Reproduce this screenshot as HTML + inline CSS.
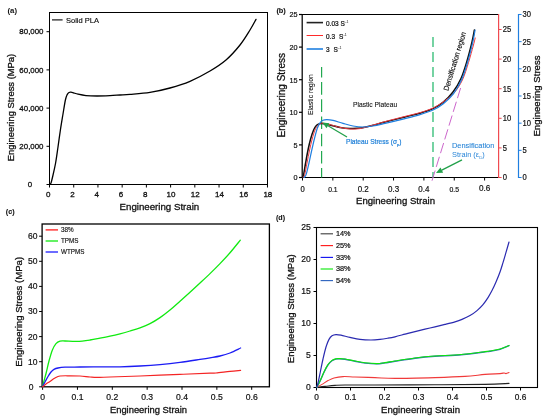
<!DOCTYPE html>
<html><head><meta charset="utf-8"><title>Figure</title>
<style>
html,body{margin:0;padding:0;background:#fff;}
body{width:550px;height:417px;overflow:hidden;}
svg{display:block;font-family:"Liberation Sans",sans-serif;}
</style></head><body>
<svg width="550" height="417" viewBox="0 0 550 417">
<rect x="0" y="0" width="550" height="417" fill="#fff"/>
<rect x="49.5" y="12.5" width="218.0" height="172.0" fill="none" stroke="#000" stroke-width="1"/>
<line x1="46.50" y1="184.50" x2="49.50" y2="184.50" stroke="#000" stroke-width="1.0" />
<text x="32.20" y="187.00" font-size="7.9" text-anchor="end" fill="#111" font-weight="normal"   stroke="#111" stroke-width="0.3">0</text>
<line x1="46.50" y1="146.30" x2="49.50" y2="146.30" stroke="#000" stroke-width="1.0" />
<text x="43.50" y="149.00" font-size="7.9" text-anchor="end" fill="#111" font-weight="normal"   stroke="#111" stroke-width="0.3">20,000</text>
<line x1="46.50" y1="108.10" x2="49.50" y2="108.10" stroke="#000" stroke-width="1.0" />
<text x="43.50" y="110.80" font-size="7.9" text-anchor="end" fill="#111" font-weight="normal"   stroke="#111" stroke-width="0.3">40,000</text>
<line x1="46.50" y1="69.90" x2="49.50" y2="69.90" stroke="#000" stroke-width="1.0" />
<text x="43.50" y="72.60" font-size="7.9" text-anchor="end" fill="#111" font-weight="normal"   stroke="#111" stroke-width="0.3">60,000</text>
<line x1="46.50" y1="31.70" x2="49.50" y2="31.70" stroke="#000" stroke-width="1.0" />
<text x="43.50" y="34.40" font-size="7.9" text-anchor="end" fill="#111" font-weight="normal"   stroke="#111" stroke-width="0.3">80,000</text>
<line x1="49.50" y1="184.50" x2="49.50" y2="187.50" stroke="#000" stroke-width="1.0" />
<text x="48.30" y="196.60" font-size="8" text-anchor="middle" fill="#111" font-weight="normal"   stroke="#111" stroke-width="0.3">0</text>
<line x1="73.72" y1="184.50" x2="73.72" y2="187.50" stroke="#000" stroke-width="1.0" />
<text x="72.52" y="196.60" font-size="8" text-anchor="middle" fill="#111" font-weight="normal"   stroke="#111" stroke-width="0.3">2</text>
<line x1="97.94" y1="184.50" x2="97.94" y2="187.50" stroke="#000" stroke-width="1.0" />
<text x="96.74" y="196.60" font-size="8" text-anchor="middle" fill="#111" font-weight="normal"   stroke="#111" stroke-width="0.3">4</text>
<line x1="122.16" y1="184.50" x2="122.16" y2="187.50" stroke="#000" stroke-width="1.0" />
<text x="120.96" y="196.60" font-size="8" text-anchor="middle" fill="#111" font-weight="normal"   stroke="#111" stroke-width="0.3">6</text>
<line x1="146.38" y1="184.50" x2="146.38" y2="187.50" stroke="#000" stroke-width="1.0" />
<text x="145.18" y="196.60" font-size="8" text-anchor="middle" fill="#111" font-weight="normal"   stroke="#111" stroke-width="0.3">8</text>
<line x1="170.60" y1="184.50" x2="170.60" y2="187.50" stroke="#000" stroke-width="1.0" />
<text x="171.00" y="196.60" font-size="8" text-anchor="middle" fill="#111" font-weight="normal"   stroke="#111" stroke-width="0.3">10</text>
<line x1="194.82" y1="184.50" x2="194.82" y2="187.50" stroke="#000" stroke-width="1.0" />
<text x="195.22" y="196.60" font-size="8" text-anchor="middle" fill="#111" font-weight="normal"   stroke="#111" stroke-width="0.3">12</text>
<line x1="219.04" y1="184.50" x2="219.04" y2="187.50" stroke="#000" stroke-width="1.0" />
<text x="219.44" y="196.60" font-size="8" text-anchor="middle" fill="#111" font-weight="normal"   stroke="#111" stroke-width="0.3">14</text>
<line x1="243.26" y1="184.50" x2="243.26" y2="187.50" stroke="#000" stroke-width="1.0" />
<text x="243.66" y="196.60" font-size="8" text-anchor="middle" fill="#111" font-weight="normal"   stroke="#111" stroke-width="0.3">16</text>
<line x1="267.48" y1="184.50" x2="267.48" y2="187.50" stroke="#000" stroke-width="1.0" />
<text x="267.88" y="196.60" font-size="8" text-anchor="middle" fill="#111" font-weight="normal"   stroke="#111" stroke-width="0.3">18</text>
<text x="159.40" y="209.50" font-size="9.7" text-anchor="middle" fill="#111" font-weight="normal"   stroke="#111" stroke-width="0.3">Engineering Strain</text>
<text x="0.00" y="0.00" font-size="9.4" text-anchor="middle" fill="#111" font-weight="normal" transform="translate(14.20 107.50) rotate(-90)"  stroke="#111" stroke-width="0.3">Engineering Stress (MPa)</text>
<line x1="52.00" y1="19.90" x2="62.60" y2="19.90" stroke="#000" stroke-width="1.1" />
<text x="66.00" y="22.60" font-size="7.5" text-anchor="start" fill="#111" font-weight="normal"   stroke="#111" stroke-width="0.15">Solid PLA</text>
<text x="7.50" y="13.20" font-size="7.8" text-anchor="start" fill="#111" font-weight="bold"   stroke="#111" stroke-width="0">(a)</text>
<path d="M50.00 184.00 C50.17 183.83 50.53 184.33 51.00 183.00 C51.47 181.67 52.03 179.33 52.80 176.00 C53.57 172.67 54.73 167.83 55.60 163.00 C56.47 158.17 57.20 152.50 58.00 147.00 C58.80 141.50 59.57 135.50 60.40 130.00 C61.23 124.50 62.17 119.00 63.00 114.00 C63.83 109.00 64.70 103.23 65.40 100.00 C66.10 96.77 66.60 95.85 67.20 94.60 C67.80 93.35 68.37 92.90 69.00 92.50 C69.63 92.10 70.25 92.15 71.00 92.20 C71.75 92.25 72.33 92.47 73.50 92.80 C74.67 93.13 75.92 93.73 78.00 94.20 C80.08 94.67 82.83 95.30 86.00 95.60 C89.17 95.90 93.00 96.00 97.00 96.00 C101.00 96.00 106.17 95.77 110.00 95.60 C113.83 95.43 116.67 95.20 120.00 95.00 C123.33 94.80 125.00 94.83 130.00 94.40 C135.00 93.97 143.33 93.47 150.00 92.40 C156.67 91.33 163.33 89.85 170.00 88.00 C176.67 86.15 183.33 84.13 190.00 81.30 C196.67 78.47 204.00 74.55 210.00 71.00 C216.00 67.45 221.00 64.33 226.00 60.00 C231.00 55.67 236.00 50.00 240.00 45.00 C244.00 40.00 247.33 34.27 250.00 30.00 C252.67 25.73 255.00 21.17 256.00 19.40" fill="none" stroke="#000" stroke-width="1.3" stroke-linecap="round" stroke-linejoin="round" />
<line x1="302.20" y1="14.00" x2="302.20" y2="178.00" stroke="#000" stroke-width="1.25" />
<line x1="301.50" y1="177.50" x2="498.60" y2="177.50" stroke="#000" stroke-width="1.1" />
<line x1="302.00" y1="14.50" x2="498.60" y2="14.50" stroke="#000" stroke-width="1.1" />
<line x1="498.60" y1="14.00" x2="498.60" y2="178.00" stroke="#f04a50" stroke-width="1.2" />
<line x1="518.50" y1="14.00" x2="518.50" y2="178.00" stroke="#1f7fe0" stroke-width="1.2" />
<line x1="299.00" y1="177.50" x2="302.00" y2="177.50" stroke="#000" stroke-width="1.2" />
<text x="0.00" y="0.00" font-size="8.1" text-anchor="end" fill="#111" font-weight="normal" transform="translate(297.50 180.40) scale(0.9 1)"  stroke="#111" stroke-width="0.2">0</text>
<line x1="299.00" y1="144.90" x2="302.00" y2="144.90" stroke="#000" stroke-width="1.2" />
<text x="0.00" y="0.00" font-size="8.1" text-anchor="end" fill="#111" font-weight="normal" transform="translate(297.50 147.80) scale(0.9 1)"  stroke="#111" stroke-width="0.2">5</text>
<line x1="299.00" y1="112.30" x2="302.00" y2="112.30" stroke="#000" stroke-width="1.2" />
<text x="0.00" y="0.00" font-size="8.1" text-anchor="end" fill="#111" font-weight="normal" transform="translate(297.50 115.20) scale(0.9 1)"  stroke="#111" stroke-width="0.2">10</text>
<line x1="299.00" y1="79.70" x2="302.00" y2="79.70" stroke="#000" stroke-width="1.2" />
<text x="0.00" y="0.00" font-size="8.1" text-anchor="end" fill="#111" font-weight="normal" transform="translate(297.50 82.60) scale(0.9 1)"  stroke="#111" stroke-width="0.2">15</text>
<line x1="299.00" y1="47.10" x2="302.00" y2="47.10" stroke="#000" stroke-width="1.2" />
<text x="0.00" y="0.00" font-size="8.1" text-anchor="end" fill="#111" font-weight="normal" transform="translate(297.50 50.00) scale(0.9 1)"  stroke="#111" stroke-width="0.2">20</text>
<line x1="299.00" y1="14.50" x2="302.00" y2="14.50" stroke="#000" stroke-width="1.2" />
<text x="0.00" y="0.00" font-size="8.1" text-anchor="end" fill="#111" font-weight="normal" transform="translate(297.50 17.40) scale(0.9 1)"  stroke="#111" stroke-width="0.2">25</text>
<line x1="498.60" y1="177.50" x2="501.60" y2="177.50" stroke="#f04a50" stroke-width="1.0" />
<text x="0.00" y="0.00" font-size="8.2" text-anchor="start" fill="#111" font-weight="normal" transform="translate(502.80 180.40) scale(0.93 1)"  stroke="#111" stroke-width="0.2">0</text>
<line x1="498.60" y1="147.90" x2="501.60" y2="147.90" stroke="#f04a50" stroke-width="1.0" />
<text x="0.00" y="0.00" font-size="8.2" text-anchor="start" fill="#111" font-weight="normal" transform="translate(502.80 150.80) scale(0.93 1)"  stroke="#111" stroke-width="0.2">5</text>
<line x1="498.60" y1="118.30" x2="501.60" y2="118.30" stroke="#f04a50" stroke-width="1.0" />
<text x="0.00" y="0.00" font-size="8.2" text-anchor="start" fill="#111" font-weight="normal" transform="translate(502.80 121.20) scale(0.93 1)"  stroke="#111" stroke-width="0.2">10</text>
<line x1="498.60" y1="88.70" x2="501.60" y2="88.70" stroke="#f04a50" stroke-width="1.0" />
<text x="0.00" y="0.00" font-size="8.2" text-anchor="start" fill="#111" font-weight="normal" transform="translate(502.80 91.60) scale(0.93 1)"  stroke="#111" stroke-width="0.2">15</text>
<line x1="498.60" y1="59.10" x2="501.60" y2="59.10" stroke="#f04a50" stroke-width="1.0" />
<text x="0.00" y="0.00" font-size="8.2" text-anchor="start" fill="#111" font-weight="normal" transform="translate(502.80 62.00) scale(0.93 1)"  stroke="#111" stroke-width="0.2">20</text>
<line x1="498.60" y1="29.50" x2="501.60" y2="29.50" stroke="#f04a50" stroke-width="1.0" />
<text x="0.00" y="0.00" font-size="8.2" text-anchor="start" fill="#111" font-weight="normal" transform="translate(502.80 32.40) scale(0.93 1)"  stroke="#111" stroke-width="0.2">25</text>
<line x1="518.50" y1="177.50" x2="521.60" y2="177.50" stroke="#1f7fe0" stroke-width="1.0" />
<text x="0.00" y="0.00" font-size="8.2" text-anchor="start" fill="#111" font-weight="normal" transform="translate(522.60 180.40) scale(0.93 1)"  stroke="#111" stroke-width="0.2">0</text>
<line x1="518.50" y1="150.33" x2="521.60" y2="150.33" stroke="#1f7fe0" stroke-width="1.0" />
<text x="0.00" y="0.00" font-size="8.2" text-anchor="start" fill="#111" font-weight="normal" transform="translate(522.60 153.23) scale(0.93 1)"  stroke="#111" stroke-width="0.2">5</text>
<line x1="518.50" y1="123.16" x2="521.60" y2="123.16" stroke="#1f7fe0" stroke-width="1.0" />
<text x="0.00" y="0.00" font-size="8.2" text-anchor="start" fill="#111" font-weight="normal" transform="translate(522.60 126.06) scale(0.93 1)"  stroke="#111" stroke-width="0.2">10</text>
<line x1="518.50" y1="95.99" x2="521.60" y2="95.99" stroke="#1f7fe0" stroke-width="1.0" />
<text x="0.00" y="0.00" font-size="8.2" text-anchor="start" fill="#111" font-weight="normal" transform="translate(522.60 98.89) scale(0.93 1)"  stroke="#111" stroke-width="0.2">15</text>
<line x1="518.50" y1="68.82" x2="521.60" y2="68.82" stroke="#1f7fe0" stroke-width="1.0" />
<text x="0.00" y="0.00" font-size="8.2" text-anchor="start" fill="#111" font-weight="normal" transform="translate(522.60 71.72) scale(0.93 1)"  stroke="#111" stroke-width="0.2">20</text>
<line x1="518.50" y1="41.65" x2="521.60" y2="41.65" stroke="#1f7fe0" stroke-width="1.0" />
<text x="0.00" y="0.00" font-size="8.2" text-anchor="start" fill="#111" font-weight="normal" transform="translate(522.60 44.55) scale(0.93 1)"  stroke="#111" stroke-width="0.2">25</text>
<line x1="518.50" y1="14.48" x2="521.60" y2="14.48" stroke="#1f7fe0" stroke-width="1.0" />
<text x="0.00" y="0.00" font-size="8.2" text-anchor="start" fill="#111" font-weight="normal" transform="translate(522.60 17.38) scale(0.93 1)"  stroke="#111" stroke-width="0.2">30</text>
<line x1="302.50" y1="177.50" x2="302.50" y2="180.50" stroke="#000" stroke-width="1.0" />
<text x="0.00" y="0.00" font-size="8.2" text-anchor="middle" fill="#111" font-weight="normal" transform="translate(302.50 191.60) scale(0.93 1)"  stroke="#111" stroke-width="0.2">0</text>
<line x1="332.85" y1="177.50" x2="332.85" y2="180.50" stroke="#000" stroke-width="1.0" />
<text x="0.00" y="0.00" font-size="7.3" text-anchor="middle" fill="#111" font-weight="normal" transform="translate(332.85 191.80) scale(0.93 1)"  stroke="#111" stroke-width="0.2">0.1</text>
<line x1="363.20" y1="177.50" x2="363.20" y2="180.50" stroke="#000" stroke-width="1.0" />
<text x="0.00" y="0.00" font-size="8.6" text-anchor="middle" fill="#111" font-weight="normal" transform="translate(363.20 191.80) scale(0.93 1)"  stroke="#111" stroke-width="0.2">0.2</text>
<line x1="393.55" y1="177.50" x2="393.55" y2="180.50" stroke="#000" stroke-width="1.0" />
<text x="0.00" y="0.00" font-size="8.6" text-anchor="middle" fill="#111" font-weight="normal" transform="translate(393.55 191.80) scale(0.93 1)"  stroke="#111" stroke-width="0.2">0.3</text>
<line x1="423.90" y1="177.50" x2="423.90" y2="180.50" stroke="#000" stroke-width="1.0" />
<text x="0.00" y="0.00" font-size="8.6" text-anchor="middle" fill="#111" font-weight="normal" transform="translate(423.90 191.80) scale(0.93 1)"  stroke="#111" stroke-width="0.2">0.4</text>
<line x1="454.25" y1="177.50" x2="454.25" y2="180.50" stroke="#000" stroke-width="1.0" />
<text x="0.00" y="0.00" font-size="7.4" text-anchor="middle" fill="#111" font-weight="normal" transform="translate(454.25 191.90) scale(0.93 1)"  stroke="#111" stroke-width="0.2">0.5</text>
<line x1="484.60" y1="177.50" x2="484.60" y2="180.50" stroke="#000" stroke-width="1.0" />
<text x="0.00" y="0.00" font-size="8.8" text-anchor="middle" fill="#111" font-weight="normal" transform="translate(484.60 191.30) scale(0.93 1)"  stroke="#111" stroke-width="0.2">0.6</text>
<text x="395.50" y="203.80" font-size="9.6" text-anchor="middle" fill="#111" font-weight="normal"   stroke="#111" stroke-width="0.3">Engineering Strain</text>
<text x="0.00" y="0.00" font-size="10" text-anchor="middle" fill="#111" font-weight="normal" transform="translate(285.00 95.20) rotate(-90)"  stroke="#111" stroke-width="0.3">Engineering Stress</text>
<text x="0.00" y="0.00" font-size="9.6" text-anchor="middle" fill="#111" font-weight="normal" transform="translate(540.20 96.00) rotate(-90)"  stroke="#111" stroke-width="0.3">Engineering Stress</text>
<text x="276.40" y="13.40" font-size="7.4" text-anchor="start" fill="#111" font-weight="bold"   stroke="#111" stroke-width="0.1">(b)</text>
<line x1="306.60" y1="22.60" x2="323.00" y2="22.60" stroke="#222" stroke-width="1.6" />
<text font-size="7.2" fill="#111" stroke="#111" stroke-width="0.25" transform="translate(326 25.50) scale(0.9 1)">0.03<tspan dx="2.2">S</tspan><tspan font-size="4" dy="-2.8" dx="0.4" stroke-width="0">-1</tspan></text>
<line x1="306.60" y1="35.50" x2="323.00" y2="35.50" stroke="#ff2a2a" stroke-width="1.0" />
<text font-size="7.2" fill="#111" stroke="#111" stroke-width="0.25" transform="translate(326 38.80) scale(0.9 1)">0.3<tspan dx="4.4">S</tspan><tspan font-size="4" dy="-2.8" dx="0.4" stroke-width="0">-1</tspan></text>
<line x1="306.60" y1="49.00" x2="323.00" y2="49.00" stroke="#1f7fe0" stroke-width="1.6" />
<text font-size="7.2" fill="#111" stroke="#111" stroke-width="0.25" transform="translate(326 51.80) scale(0.9 1)">3<tspan dx="4.4">S</tspan><tspan font-size="4" dy="-2.8" dx="0.4" stroke-width="0">-1</tspan></text>
<line x1="321.60" y1="177.50" x2="321.60" y2="66.90" stroke="#22a850" stroke-width="1.2" stroke-dasharray="12.6 4.6" stroke-dashoffset="3.2"/>
<line x1="433.00" y1="37.00" x2="433.00" y2="177.50" stroke="#3cc07c" stroke-width="1.4" stroke-dasharray="10 5"/>
<line x1="460.60" y1="88.00" x2="431.80" y2="181.40" stroke="#cc66cc" stroke-width="1.0" stroke-dasharray="10.6 3.8"/>
<path d="M302.60 177.40 C302.77 176.93 303.10 177.00 303.60 174.60 C304.10 172.20 304.87 167.10 305.60 163.00 C306.33 158.90 307.17 154.00 308.00 150.00 C308.83 146.00 309.67 142.33 310.60 139.00 C311.53 135.67 312.63 132.23 313.60 130.00 C314.57 127.77 315.50 126.60 316.40 125.60 C317.30 124.60 318.07 124.33 319.00 124.00 C319.93 123.67 320.17 123.43 322.00 123.60 C323.83 123.77 327.00 124.37 330.00 125.00 C333.00 125.63 336.67 126.83 340.00 127.40 C343.33 127.97 346.50 128.30 350.00 128.40 C353.50 128.50 357.33 128.47 361.00 128.00 C364.67 127.53 368.00 126.60 372.00 125.60 C376.00 124.60 379.50 123.43 385.00 122.00 C390.50 120.57 399.17 118.47 405.00 117.00 C410.83 115.53 415.33 114.60 420.00 113.20 C424.67 111.80 429.17 110.40 433.00 108.60 C436.83 106.80 439.67 105.17 443.00 102.40 C446.33 99.63 450.00 95.98 453.00 92.00 C456.00 88.02 458.67 83.67 461.00 78.50 C463.33 73.33 465.17 67.08 467.00 61.00 C468.83 54.92 470.77 47.17 472.00 42.00 C473.23 36.83 474.00 32.00 474.40 30.00" fill="none" stroke="#111" stroke-width="1.5" stroke-linecap="round" stroke-linejoin="round" />
<path d="M303.20 177.40 C303.47 176.90 304.17 176.80 304.80 174.40 C305.43 172.00 306.20 167.07 307.00 163.00 C307.80 158.93 308.73 154.00 309.60 150.00 C310.47 146.00 311.30 142.33 312.20 139.00 C313.10 135.67 314.07 132.27 315.00 130.00 C315.93 127.73 316.97 126.47 317.80 125.40 C318.63 124.33 319.13 123.97 320.00 123.60 C320.87 123.23 321.33 123.03 323.00 123.20 C324.67 123.37 327.17 123.90 330.00 124.60 C332.83 125.30 336.67 126.67 340.00 127.40 C343.33 128.13 346.67 128.80 350.00 129.00 C353.33 129.20 356.33 129.20 360.00 128.60 C363.67 128.00 367.83 126.57 372.00 125.40 C376.17 124.23 379.50 123.10 385.00 121.60 C390.50 120.10 399.17 117.90 405.00 116.40 C410.83 114.90 415.33 114.00 420.00 112.60 C424.67 111.20 429.17 109.77 433.00 108.00 C436.83 106.23 439.50 104.50 443.00 102.00 C446.50 99.50 450.77 96.67 454.00 93.00 C457.23 89.33 459.98 85.08 462.40 80.00 C464.82 74.92 466.70 68.17 468.50 62.50 C470.30 56.83 472.08 50.08 473.20 46.00 C474.32 41.92 474.87 39.33 475.20 38.00" fill="none" stroke="#ee3a40" stroke-width="1.0" stroke-linecap="round" stroke-linejoin="round" />
<path d="M304.20 177.40 C304.53 176.90 305.40 176.80 306.20 174.40 C307.00 172.00 308.07 167.07 309.00 163.00 C309.93 158.93 310.87 154.17 311.80 150.00 C312.73 145.83 313.67 141.67 314.60 138.00 C315.53 134.33 316.47 130.57 317.40 128.00 C318.33 125.43 319.27 123.90 320.20 122.60 C321.13 121.30 321.87 120.70 323.00 120.20 C324.13 119.70 325.33 119.57 327.00 119.60 C328.67 119.63 330.33 119.77 333.00 120.40 C335.67 121.03 339.67 122.47 343.00 123.40 C346.33 124.33 349.67 125.40 353.00 126.00 C356.33 126.60 359.67 127.00 363.00 127.00 C366.33 127.00 369.33 126.60 373.00 126.00 C376.67 125.40 379.67 124.63 385.00 123.40 C390.33 122.17 399.17 120.07 405.00 118.60 C410.83 117.13 415.33 116.03 420.00 114.60 C424.67 113.17 429.17 111.77 433.00 110.00 C436.83 108.23 439.57 106.73 443.00 104.00 C446.43 101.27 450.48 97.67 453.60 93.60 C456.72 89.53 459.35 84.90 461.70 79.60 C464.05 74.30 465.87 67.97 467.70 61.80 C469.53 55.63 471.47 47.90 472.70 42.60 C473.93 37.30 474.70 32.10 475.10 30.00" fill="none" stroke="#1f7fe0" stroke-width="1.2" stroke-linecap="round" stroke-linejoin="round" />
<line x1="347.00" y1="137.00" x2="327.99" y2="125.72" stroke="#22a04a" stroke-width="1.3" />
<polygon points="322.40,122.40 329.47,123.22 326.51,128.21" fill="#22a04a"/>
<line x1="462.00" y1="159.80" x2="441.80" y2="170.06" stroke="#22a04a" stroke-width="1.3" />
<polygon points="436.00,173.00 440.48,167.47 443.11,172.64" fill="#22a04a"/>
<text x="0.00" y="0.00" font-size="7.2" text-anchor="start" fill="#111" font-weight="normal" transform="translate(353.00 107.40) scale(0.93 1)"  stroke="#111" stroke-width="0.1">Plastic Plateau</text>
<text font-size="7.1" fill="#2080d8" stroke="#2080d8" stroke-width="0.2" transform="translate(346 144) scale(0.93 1)">Plateau Stress (σ<tspan font-size="4.2" dy="1.6">p</tspan><tspan dy="-1.6">)</tspan></text>
<text x="0.00" y="0.00" font-size="7.3" text-anchor="middle" fill="#111" font-weight="normal" transform="translate(313.20 94.60) rotate(-90) scale(0.93 1)"  stroke="#111" stroke-width="0.1">Elastic region</text>
<text x="0.00" y="0.00" font-size="7.5" text-anchor="middle" fill="#111" font-weight="normal" transform="translate(457.20 62.00) rotate(-73) scale(0.93 1)"  stroke="#111" stroke-width="0.15">Densification region</text>
<text x="452.00" y="148.00" font-size="7.4" text-anchor="start" fill="#2a86d8" font-weight="normal"   stroke="#2a86d8" stroke-width="0.1">Densification</text>
<text x="452" y="157" font-size="7.4" fill="#2a86d8">Strain (ε<tspan font-size="4.4" dy="1.6">D</tspan><tspan dy="-1.6">)</tspan></text>
<rect x="42.1" y="224" width="227.29999999999998" height="162.8" fill="none" stroke="#000" stroke-width="1.3"/>
<line x1="39.10" y1="386.80" x2="42.10" y2="386.80" stroke="#000" stroke-width="1.0" />
<text x="33.40" y="389.70" font-size="8.5" text-anchor="end" fill="#111" font-weight="normal"   stroke="#111" stroke-width="0.2">0</text>
<line x1="39.10" y1="361.70" x2="42.10" y2="361.70" stroke="#000" stroke-width="1.0" />
<text x="37.50" y="364.60" font-size="8.5" text-anchor="end" fill="#111" font-weight="normal"   stroke="#111" stroke-width="0.2">10</text>
<line x1="39.10" y1="336.60" x2="42.10" y2="336.60" stroke="#000" stroke-width="1.0" />
<text x="37.50" y="339.50" font-size="8.5" text-anchor="end" fill="#111" font-weight="normal"   stroke="#111" stroke-width="0.2">20</text>
<line x1="39.10" y1="311.50" x2="42.10" y2="311.50" stroke="#000" stroke-width="1.0" />
<text x="37.50" y="314.40" font-size="8.5" text-anchor="end" fill="#111" font-weight="normal"   stroke="#111" stroke-width="0.2">30</text>
<line x1="39.10" y1="286.40" x2="42.10" y2="286.40" stroke="#000" stroke-width="1.0" />
<text x="37.50" y="289.30" font-size="8.5" text-anchor="end" fill="#111" font-weight="normal"   stroke="#111" stroke-width="0.2">40</text>
<line x1="39.10" y1="261.30" x2="42.10" y2="261.30" stroke="#000" stroke-width="1.0" />
<text x="37.50" y="264.20" font-size="8.5" text-anchor="end" fill="#111" font-weight="normal"   stroke="#111" stroke-width="0.2">50</text>
<line x1="39.10" y1="236.20" x2="42.10" y2="236.20" stroke="#000" stroke-width="1.0" />
<text x="37.50" y="239.10" font-size="8.5" text-anchor="end" fill="#111" font-weight="normal"   stroke="#111" stroke-width="0.2">60</text>
<line x1="42.60" y1="386.80" x2="42.60" y2="389.80" stroke="#000" stroke-width="1.0" />
<text x="42.60" y="400.40" font-size="8.6" text-anchor="middle" fill="#111" font-weight="normal"   stroke="#111" stroke-width="0.2">0</text>
<line x1="77.45" y1="386.80" x2="77.45" y2="389.80" stroke="#000" stroke-width="1.0" />
<text x="77.45" y="400.40" font-size="8.6" text-anchor="middle" fill="#111" font-weight="normal"   stroke="#111" stroke-width="0.2">0.1</text>
<line x1="112.30" y1="386.80" x2="112.30" y2="389.80" stroke="#000" stroke-width="1.0" />
<text x="112.30" y="400.40" font-size="8.6" text-anchor="middle" fill="#111" font-weight="normal"   stroke="#111" stroke-width="0.2">0.2</text>
<line x1="147.15" y1="386.80" x2="147.15" y2="389.80" stroke="#000" stroke-width="1.0" />
<text x="147.15" y="400.40" font-size="8.6" text-anchor="middle" fill="#111" font-weight="normal"   stroke="#111" stroke-width="0.2">0.3</text>
<line x1="182.00" y1="386.80" x2="182.00" y2="389.80" stroke="#000" stroke-width="1.0" />
<text x="182.00" y="400.40" font-size="8.6" text-anchor="middle" fill="#111" font-weight="normal"   stroke="#111" stroke-width="0.2">0.4</text>
<line x1="216.85" y1="386.80" x2="216.85" y2="389.80" stroke="#000" stroke-width="1.0" />
<text x="216.85" y="400.40" font-size="8.6" text-anchor="middle" fill="#111" font-weight="normal"   stroke="#111" stroke-width="0.2">0.5</text>
<line x1="251.70" y1="386.80" x2="251.70" y2="389.80" stroke="#000" stroke-width="1.0" />
<text x="251.70" y="400.40" font-size="8.6" text-anchor="middle" fill="#111" font-weight="normal"   stroke="#111" stroke-width="0.2">0.6</text>
<text x="148.50" y="412.60" font-size="9.4" text-anchor="middle" fill="#111" font-weight="normal"   stroke="#111" stroke-width="0.3">Engineering Strain</text>
<text x="0.00" y="0.00" font-size="9.6" text-anchor="middle" fill="#111" font-weight="normal" transform="translate(21.60 311.80) rotate(-90)"  stroke="#111" stroke-width="0.3">Engineering Stress (MPa)</text>
<text x="5.80" y="213.60" font-size="7.2" text-anchor="start" fill="#111" font-weight="bold"   stroke="#111" stroke-width="0.1">(c)</text>
<line x1="45.60" y1="229.90" x2="58.00" y2="229.90" stroke="#ff1c1c" stroke-width="1.3" />
<text x="0.00" y="0.00" font-size="6.9" text-anchor="start" fill="#111" font-weight="normal" transform="translate(61.00 232.30) scale(0.92 1)"  stroke="#111" stroke-width="0.15">38%</text>
<line x1="45.60" y1="241.00" x2="58.00" y2="241.00" stroke="#10ea10" stroke-width="1.3" />
<text x="0.00" y="0.00" font-size="6.9" text-anchor="start" fill="#111" font-weight="normal" transform="translate(61.00 243.40) scale(0.92 1)"  stroke="#111" stroke-width="0.15">TPMS</text>
<line x1="45.60" y1="252.00" x2="58.00" y2="252.00" stroke="#1c1cff" stroke-width="1.3" />
<text x="0.00" y="0.00" font-size="6.9" text-anchor="start" fill="#111" font-weight="normal" transform="translate(61.00 254.40) scale(0.92 1)"  stroke="#111" stroke-width="0.15">WTPMS</text>
<path d="M42.50 386.60 C42.75 385.67 43.35 383.43 44.00 381.00 C44.65 378.57 45.57 375.33 46.40 372.00 C47.23 368.67 48.00 364.67 49.00 361.00 C50.00 357.33 51.23 352.90 52.40 350.00 C53.57 347.10 54.73 345.07 56.00 343.60 C57.27 342.13 58.50 341.63 60.00 341.20 C61.50 340.77 62.17 340.97 65.00 341.00 C67.83 341.03 72.83 341.57 77.00 341.40 C81.17 341.23 86.17 340.53 90.00 340.00 C93.83 339.47 96.67 338.83 100.00 338.20 C103.33 337.57 106.67 336.93 110.00 336.20 C113.33 335.47 116.67 334.67 120.00 333.80 C123.33 332.93 126.67 332.00 130.00 331.00 C133.33 330.00 136.67 329.03 140.00 327.80 C143.33 326.57 146.67 325.30 150.00 323.60 C153.33 321.90 156.67 319.87 160.00 317.60 C163.33 315.33 166.67 312.73 170.00 310.00 C173.33 307.27 176.67 304.17 180.00 301.20 C183.33 298.23 186.67 295.23 190.00 292.20 C193.33 289.17 196.67 286.10 200.00 283.00 C203.33 279.90 206.67 276.83 210.00 273.60 C213.33 270.37 216.67 267.07 220.00 263.60 C223.33 260.13 226.62 256.70 230.00 252.80 C233.38 248.90 238.58 242.30 240.30 240.20" fill="none" stroke="#10ea10" stroke-width="1.3" stroke-linecap="round" stroke-linejoin="round" />
<path d="M42.50 386.60 C42.92 385.83 44.08 383.68 45.00 382.00 C45.92 380.32 47.00 378.17 48.00 376.50 C49.00 374.83 50.00 373.18 51.00 372.00 C52.00 370.82 52.83 370.07 54.00 369.40 C55.17 368.73 56.17 368.37 58.00 368.00 C59.83 367.63 61.33 367.37 65.00 367.20 C68.67 367.03 74.17 367.07 80.00 367.00 C85.83 366.93 93.33 366.83 100.00 366.80 C106.67 366.77 113.33 366.93 120.00 366.80 C126.67 366.67 133.33 366.37 140.00 366.00 C146.67 365.63 153.33 365.20 160.00 364.60 C166.67 364.00 173.33 363.27 180.00 362.40 C186.67 361.53 195.00 360.17 200.00 359.40 C205.00 358.63 206.67 358.37 210.00 357.80 C213.33 357.23 216.67 356.80 220.00 356.00 C223.33 355.20 226.57 354.33 230.00 353.00 C233.43 351.67 238.83 348.83 240.60 348.00" fill="none" stroke="#1c1cf4" stroke-width="1.3" stroke-linecap="round" stroke-linejoin="round" />
<path d="M42.50 386.80 C43.08 386.33 44.75 384.90 46.00 384.00 C47.25 383.10 48.50 382.40 50.00 381.40 C51.50 380.40 53.33 378.90 55.00 378.00 C56.67 377.10 57.50 376.37 60.00 376.00 C62.50 375.63 66.67 375.80 70.00 375.80 C73.33 375.80 76.67 375.80 80.00 376.00 C83.33 376.20 87.17 376.77 90.00 377.00 C92.83 377.23 93.67 377.40 97.00 377.40 C100.33 377.40 102.83 377.23 110.00 377.00 C117.17 376.77 128.33 376.43 140.00 376.00 C151.67 375.57 168.33 374.87 180.00 374.40 C191.67 373.93 204.00 373.43 210.00 373.20 C216.00 372.97 212.67 373.30 216.00 373.00 C219.33 372.70 225.90 371.83 230.00 371.40 C234.10 370.97 238.83 370.57 240.60 370.40" fill="none" stroke="#f42424" stroke-width="1.2" stroke-linecap="round" stroke-linejoin="round" />
<rect x="316.5" y="227.5" width="221.0" height="160.0" fill="none" stroke="#000" stroke-width="1.1"/>
<line x1="313.50" y1="387.50" x2="316.50" y2="387.50" stroke="#000" stroke-width="1.0" />
<text x="310.90" y="390.00" font-size="8.6" text-anchor="end" fill="#111" font-weight="normal"   stroke="#111" stroke-width="0.2">0</text>
<line x1="313.50" y1="355.50" x2="316.50" y2="355.50" stroke="#000" stroke-width="1.0" />
<text x="310.90" y="358.00" font-size="8.6" text-anchor="end" fill="#111" font-weight="normal"   stroke="#111" stroke-width="0.2">5</text>
<line x1="313.50" y1="323.50" x2="316.50" y2="323.50" stroke="#000" stroke-width="1.0" />
<text x="310.90" y="326.00" font-size="8.6" text-anchor="end" fill="#111" font-weight="normal"   stroke="#111" stroke-width="0.2">10</text>
<line x1="313.50" y1="291.50" x2="316.50" y2="291.50" stroke="#000" stroke-width="1.0" />
<text x="310.90" y="294.00" font-size="8.6" text-anchor="end" fill="#111" font-weight="normal"   stroke="#111" stroke-width="0.2">15</text>
<line x1="313.50" y1="259.50" x2="316.50" y2="259.50" stroke="#000" stroke-width="1.0" />
<text x="310.90" y="262.00" font-size="8.6" text-anchor="end" fill="#111" font-weight="normal"   stroke="#111" stroke-width="0.2">20</text>
<line x1="313.50" y1="227.50" x2="316.50" y2="227.50" stroke="#000" stroke-width="1.0" />
<text x="310.90" y="230.00" font-size="8.6" text-anchor="end" fill="#111" font-weight="normal"   stroke="#111" stroke-width="0.2">25</text>
<line x1="316.50" y1="387.50" x2="316.50" y2="390.50" stroke="#000" stroke-width="1.0" />
<text x="316.50" y="399.80" font-size="8.3" text-anchor="middle" fill="#111" font-weight="normal"   stroke="#111" stroke-width="0.2">0</text>
<line x1="350.50" y1="387.50" x2="350.50" y2="390.50" stroke="#000" stroke-width="1.0" />
<text x="350.50" y="399.80" font-size="8.3" text-anchor="middle" fill="#111" font-weight="normal"   stroke="#111" stroke-width="0.2">0.1</text>
<line x1="384.50" y1="387.50" x2="384.50" y2="390.50" stroke="#000" stroke-width="1.0" />
<text x="384.50" y="399.80" font-size="8.3" text-anchor="middle" fill="#111" font-weight="normal"   stroke="#111" stroke-width="0.2">0.2</text>
<line x1="418.50" y1="387.50" x2="418.50" y2="390.50" stroke="#000" stroke-width="1.0" />
<text x="418.50" y="399.80" font-size="8.3" text-anchor="middle" fill="#111" font-weight="normal"   stroke="#111" stroke-width="0.2">0.3</text>
<line x1="452.50" y1="387.50" x2="452.50" y2="390.50" stroke="#000" stroke-width="1.0" />
<text x="452.50" y="399.80" font-size="8.3" text-anchor="middle" fill="#111" font-weight="normal"   stroke="#111" stroke-width="0.2">0.4</text>
<line x1="486.50" y1="387.50" x2="486.50" y2="390.50" stroke="#000" stroke-width="1.0" />
<text x="486.50" y="399.80" font-size="8.3" text-anchor="middle" fill="#111" font-weight="normal"   stroke="#111" stroke-width="0.2">0.5</text>
<line x1="520.50" y1="387.50" x2="520.50" y2="390.50" stroke="#000" stroke-width="1.0" />
<text x="520.50" y="399.80" font-size="8.3" text-anchor="middle" fill="#111" font-weight="normal"   stroke="#111" stroke-width="0.2">0.6</text>
<text x="420.50" y="412.60" font-size="9.6" text-anchor="middle" fill="#111" font-weight="normal"   stroke="#111" stroke-width="0.3">Engineering Strain</text>
<text x="0.00" y="0.00" font-size="9.5" text-anchor="middle" fill="#111" font-weight="normal" transform="translate(294.40 308.80) rotate(-90)"  stroke="#111" stroke-width="0.3">Engineering Stress (MPa)</text>
<text x="276.00" y="219.60" font-size="7.1" text-anchor="start" fill="#111" font-weight="bold"   stroke="#111" stroke-width="0.1">(d)</text>
<line x1="320.60" y1="233.80" x2="333.00" y2="233.80" stroke="#444" stroke-width="1.15" />
<text x="336.00" y="236.20" font-size="7.3" text-anchor="start" fill="#111" font-weight="normal"   stroke="#111" stroke-width="0.2">14%</text>
<line x1="320.60" y1="245.60" x2="333.00" y2="245.60" stroke="#ff2020" stroke-width="1.15" />
<text x="336.00" y="248.00" font-size="7.3" text-anchor="start" fill="#111" font-weight="normal"   stroke="#111" stroke-width="0.2">25%</text>
<line x1="320.60" y1="257.40" x2="333.00" y2="257.40" stroke="#1818f0" stroke-width="1.15" />
<text x="336.00" y="259.80" font-size="7.3" text-anchor="start" fill="#111" font-weight="normal"   stroke="#111" stroke-width="0.2">33%</text>
<line x1="320.60" y1="269.00" x2="333.00" y2="269.00" stroke="#10e810" stroke-width="1.15" />
<text x="336.00" y="271.40" font-size="7.3" text-anchor="start" fill="#111" font-weight="normal"   stroke="#111" stroke-width="0.2">38%</text>
<line x1="320.60" y1="280.60" x2="333.00" y2="280.60" stroke="#3468c0" stroke-width="1.15" />
<text x="336.00" y="283.00" font-size="7.3" text-anchor="start" fill="#111" font-weight="normal"   stroke="#111" stroke-width="0.2">54%</text>
<path d="M316.80 387.40 C318.17 387.23 321.97 386.73 325.00 386.40 C328.03 386.07 331.67 385.63 335.00 385.40 C338.33 385.17 338.33 385.07 345.00 385.00 C351.67 384.93 360.00 385.03 375.00 385.00 C390.00 384.97 416.67 384.90 435.00 384.80 C453.33 384.70 472.67 384.63 485.00 384.40 C497.33 384.17 505.00 383.57 509.00 383.40" fill="none" stroke="#222" stroke-width="1.1" stroke-linecap="round" stroke-linejoin="round" />
<path d="M316.80 387.40 C317.67 386.90 320.13 385.53 322.00 384.40 C323.87 383.27 326.00 381.67 328.00 380.60 C330.00 379.53 331.50 378.67 334.00 378.00 C336.50 377.33 339.50 376.77 343.00 376.60 C346.50 376.43 349.67 376.83 355.00 377.00 C360.33 377.17 368.33 377.37 375.00 377.60 C381.67 377.83 385.00 378.40 395.00 378.40 C405.00 378.40 423.33 377.93 435.00 377.60 C446.67 377.27 456.67 376.93 465.00 376.40 C473.33 375.87 479.17 374.87 485.00 374.40 C490.83 373.93 496.83 373.83 500.00 373.60 C503.17 373.37 503.00 373.00 504.00 373.00 C505.00 373.00 505.17 373.67 506.00 373.60 C506.83 373.53 508.50 372.77 509.00 372.60" fill="none" stroke="#f03a3a" stroke-width="1.1" stroke-linecap="round" stroke-linejoin="round" />
<path d="M316.80 387.50 C317.33 386.47 318.80 383.83 320.00 381.30 C321.20 378.77 322.67 375.03 324.00 372.30 C325.33 369.57 326.67 366.83 328.00 364.90 C329.33 362.97 330.67 361.67 332.00 360.70 C333.33 359.73 334.83 359.40 336.00 359.10 C337.17 358.80 337.50 358.87 339.00 358.90 C340.50 358.93 342.33 358.90 345.00 359.30 C347.67 359.70 351.67 360.67 355.00 361.30 C358.33 361.93 361.33 362.67 365.00 363.10 C368.67 363.53 373.67 363.93 377.00 363.90 C380.33 363.87 382.00 363.33 385.00 362.90 C388.00 362.47 390.00 362.07 395.00 361.30 C400.00 360.53 408.33 359.13 415.00 358.30 C421.67 357.47 428.33 356.80 435.00 356.30 C441.67 355.80 448.33 355.80 455.00 355.30 C461.67 354.80 470.00 353.87 475.00 353.30 C480.00 352.73 482.50 352.23 485.00 351.90 C487.50 351.57 487.50 351.73 490.00 351.30 C492.50 350.87 496.83 350.23 500.00 349.30 C503.17 348.37 507.50 346.30 509.00 345.70" fill="none" stroke="#3a6cc0" stroke-width="1.4" stroke-linecap="round" stroke-linejoin="round" />
<path d="M316.80 387.20 C317.33 386.17 318.80 383.53 320.00 381.00 C321.20 378.47 322.67 374.73 324.00 372.00 C325.33 369.27 326.67 366.53 328.00 364.60 C329.33 362.67 330.67 361.37 332.00 360.40 C333.33 359.43 334.83 359.10 336.00 358.80 C337.17 358.50 337.50 358.57 339.00 358.60 C340.50 358.63 342.33 358.60 345.00 359.00 C347.67 359.40 351.67 360.37 355.00 361.00 C358.33 361.63 361.33 362.37 365.00 362.80 C368.67 363.23 373.67 363.63 377.00 363.60 C380.33 363.57 382.00 363.03 385.00 362.60 C388.00 362.17 390.00 361.77 395.00 361.00 C400.00 360.23 408.33 358.83 415.00 358.00 C421.67 357.17 428.33 356.50 435.00 356.00 C441.67 355.50 448.33 355.50 455.00 355.00 C461.67 354.50 470.00 353.57 475.00 353.00 C480.00 352.43 482.50 351.93 485.00 351.60 C487.50 351.27 487.50 351.43 490.00 351.00 C492.50 350.57 496.83 349.93 500.00 349.00 C503.17 348.07 507.50 346.00 509.00 345.40" fill="none" stroke="#0ce40c" stroke-width="1.1" stroke-linecap="round" stroke-linejoin="round" />
<path d="M316.60 387.20 C316.83 386.50 317.35 385.70 318.00 383.00 C318.65 380.30 319.67 375.00 320.50 371.00 C321.33 367.00 322.08 363.00 323.00 359.00 C323.92 355.00 325.00 350.27 326.00 347.00 C327.00 343.73 328.00 341.27 329.00 339.40 C330.00 337.53 330.83 336.60 332.00 335.80 C333.17 335.00 334.50 334.70 336.00 334.60 C337.50 334.50 338.67 334.73 341.00 335.20 C343.33 335.67 346.83 336.70 350.00 337.40 C353.17 338.10 356.50 338.97 360.00 339.40 C363.50 339.83 367.67 340.00 371.00 340.00 C374.33 340.00 377.17 339.70 380.00 339.40 C382.83 339.10 385.50 338.63 388.00 338.20 C390.50 337.77 392.17 337.47 395.00 336.80 C397.83 336.13 401.67 335.07 405.00 334.20 C408.33 333.33 411.67 332.43 415.00 331.60 C418.33 330.77 421.67 330.00 425.00 329.20 C428.33 328.40 431.67 327.60 435.00 326.80 C438.33 326.00 441.67 325.23 445.00 324.40 C448.33 323.57 452.17 322.63 455.00 321.80 C457.83 320.97 459.50 320.43 462.00 319.40 C464.50 318.37 467.50 317.07 470.00 315.60 C472.50 314.13 474.83 312.43 477.00 310.60 C479.17 308.77 481.17 306.77 483.00 304.60 C484.83 302.43 486.50 299.93 488.00 297.60 C489.50 295.27 490.67 293.20 492.00 290.60 C493.33 288.00 494.67 285.10 496.00 282.00 C497.33 278.90 498.83 275.23 500.00 272.00 C501.17 268.77 502.00 265.87 503.00 262.60 C504.00 259.33 505.00 255.83 506.00 252.40 C507.00 248.97 508.50 243.73 509.00 242.00" fill="none" stroke="#2a2ab0" stroke-width="1.2" stroke-linecap="round" stroke-linejoin="round" />
</svg>
</body></html>
